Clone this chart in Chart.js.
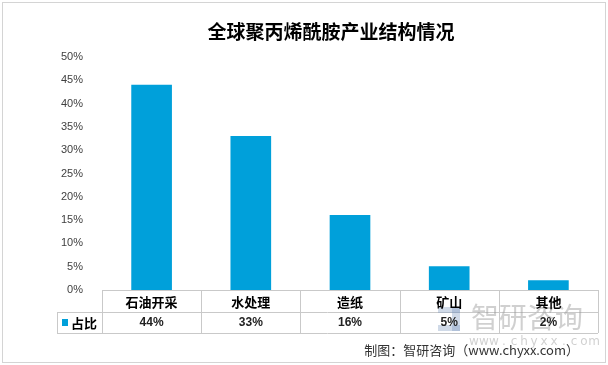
<!DOCTYPE html>
<html>
<head>
<meta charset="utf-8">
<script src="https://cdn.jsdelivr.net/npm/chart.js@4"></script>
<style>
  html, body { margin: 0; padding: 0; background: #fff; }
  #wrap { width: 608px; height: 365px; position: relative; }
</style>
</head>
<body>
<div id="wrap"><canvas id="myChart"></canvas></div>
<script>
// chart data
var categories = ['石油开采', '水处理', '造纸', '矿山', '其他'];
var shares = [44, 33, 16, 5, 2];
var seriesName = '占比';
var titleText = '全球聚丙烯酰胺产业结构情况';
var sourceText = '制图：智研咨询（www.chyxx.com）';

var barColor = '#00a0da';
var lineColor = '#c9c9c9';
var cjk = '"Noto Sans CJK SC", "Liberation Sans", sans-serif';

// draws title, data table under the axis, source line and watermark
var tablePlugin = {
    id: 'dataTable',
    afterDraw: function(chart) {
        var ctx = chart.ctx;
        var x = chart.scales.x;
        var area = chart.chartArea;
        var rowH = 22;
        var top = area.bottom;
        var mid = top + rowH;
        var bot = mid + 21;
        var headLeft = 57;
        var half = (x.getPixelForValue(1) - x.getPixelForValue(0)) / 2;
        var left = x.getPixelForValue(0) - half;
        var right = x.getPixelForValue(categories.length - 1) + half;

        ctx.save();

        // outer frame
        ctx.strokeStyle = '#d4d4d4';
        ctx.lineWidth = 1;
        ctx.strokeRect(2.5, 2.5, 603, 360);

        // title
        ctx.fillStyle = '#000';
        ctx.font = 'bold 19px ' + cjk;
        ctx.textAlign = 'center';
        ctx.textBaseline = 'middle';
        ctx.fillText(titleText, 331, 32);

        // table grid
        ctx.strokeStyle = lineColor;
        ctx.beginPath();
        ctx.moveTo(left, top + 0.5); ctx.lineTo(right, top + 0.5);
        ctx.moveTo(headLeft, mid + 0.5); ctx.lineTo(right, mid + 0.5);
        ctx.moveTo(headLeft, bot + 0.5); ctx.lineTo(right, bot + 0.5);
        ctx.moveTo(headLeft + 0.5, mid); ctx.lineTo(headLeft + 0.5, bot);
        for (var i = 0; i <= categories.length; i++) {
            var gx = Math.round(left + i * half * 2) + 0.5;
            ctx.moveTo(gx, top); ctx.lineTo(gx, bot);
        }
        ctx.stroke();

        // watermark (behind the table text)
        ctx.fillStyle = 'rgba(150,150,150,0.45)';
        ctx.font = '28px ' + cjk;
        ctx.textAlign = 'left';
        ctx.fillText('智研咨询', 471, 317);
        ctx.font = '12px "DejaVu Sans", sans-serif';
        ctx.textAlign = 'center';
        'www.chyxx.com'.split('').forEach(function(ch, i) {
            ctx.fillText(ch, 474 + i * 10, 342);
        });
        ctx.fillStyle = 'rgba(120,150,190,0.35)';
        ctx.fillRect(438, 307, 22, 6);
        ctx.fillRect(452, 307, 8, 24);
        ctx.fillRect(438, 325, 22, 6);

        // category row
        ctx.fillStyle = '#000';
        ctx.font = 'bold 13px ' + cjk;
        ctx.textAlign = 'center';
        categories.forEach(function(c, i) {
            ctx.fillText(c, x.getPixelForValue(i), top + rowH / 2 + 1);
        });

        // series row
        ctx.fillStyle = barColor;
        ctx.fillRect(62, mid + 7, 6, 7);
        ctx.fillStyle = '#000';
        ctx.textAlign = 'left';
        ctx.fillText(seriesName, 71, mid + 11);
        ctx.fillStyle = '#222';
        ctx.font = 'bold 12px "Liberation Sans", sans-serif';
        ctx.textAlign = 'center';
        shares.forEach(function(v, i) {
            ctx.fillText(v + '%', x.getPixelForValue(i), mid + 11);
        });

        // source
        ctx.fillStyle = '#333';
        ctx.font = '13px ' + cjk;
        ctx.textAlign = 'right';
        ctx.fillText(sourceText, 579, 350);

        ctx.restore();
    }
};

var myChart = new Chart(document.getElementById('myChart'), {
    type: 'bar',
    data: {
        labels: categories,
        datasets: [{
            label: seriesName,
            data: shares,
            backgroundColor: barColor,
            barThickness: 40
        }]
    },
    options: {
        responsive: true,
        maintainAspectRatio: false,
        animation: false,
        layout: { padding: { top: 57, right: 10, left: 0, bottom: 0 } },
        plugins: {
            legend: { display: false },
            tooltip: { enabled: false }
        },
        scales: {
            x: {
                grid: { display: false },
                border: { display: false },
                ticks: { display: false },
                afterFit: function(scale) { scale.height = 75; }
            },
            y: {
                min: 0,
                max: 50,
                grid: { display: false },
                border: { display: false },
                ticks: {
                    stepSize: 5,
                    padding: 11,
                    color: '#404040',
                    font: { family: '"Liberation Sans", sans-serif', size: 11 },
                    callback: function(v) { return v + '%'; }
                },
                afterFit: function(scale) { scale.width = 102; }
            }
        }
    },
    plugins: [tablePlugin]
});
</script>
</body>
</html>
